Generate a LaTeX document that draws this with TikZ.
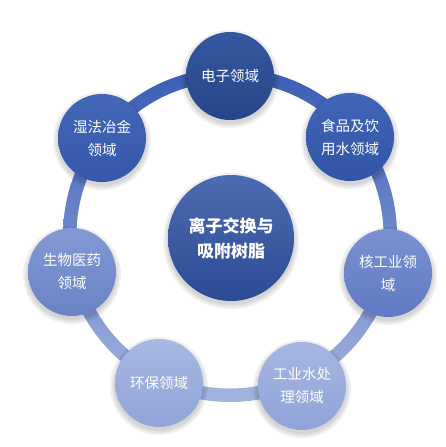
\documentclass[tikz,border=0pt]{standalone}
\usepackage{fontspec}
\usepackage{xcolor}
\usepackage{tikz}
\newfontfamily\cjk{Noto Sans CJK SC}

\definecolor{ringTop}{HTML}{3A5DB5}
\definecolor{ringBot}{HTML}{A3B4E0}
\definecolor{hubTop}{HTML}{4D6BB0}
\definecolor{hubBot}{HTML}{2B4B95}

\tikzset{
  field/.style={circle, minimum size=88pt, inner sep=0pt, align=center,
    text=white, font=\cjk\fontsize{14.5}{23}\selectfont},
  hub/.style={circle, minimum size=126pt, inner sep=0pt, align=center,
    text=white, font=\cjk\bfseries\fontsize{17}{25}\selectfont,
    top color=hubTop, bottom color=hubBot},
  softshade/.style={fill=black, fill opacity=0.06}
}

\begin{document}
\begin{tikzpicture}[x=1pt,y=-1pt]
                \useasboundingbox (0,0) rectangle (446,447);
                % Ring
                \shade[top color=ringTop, bottom color=ringBot, even odd rule]
                    (230,235) circle (167) (230,235) circle (153.5);
                % Center
                \foreach \r in {64,66,68} \fill[softshade] (231,241) circle (\r);
                \node[hub] (resin) at (231,238) {离子交换与\\吸附树脂};
                % Fields round the ring
                \foreach \x/\y/\name/\ctop/\cbot/\lab in {
                    230/76/elec/3457A0/27468A/{电子领域},
                    350/137/food/4266B7/3154A6/{食品及饮\\用水领域},
                    388/273/nucl/7A92D2/5F79C2/{核工业领\\域},
                    302/386/water/A6B6E2/8FA3D8/{工业水处\\理领域},
                    159/383/envi/A8B8E2/90A4D8/{环保领域},
                    72/272/bio/8399D4/6A83C6/{生物医药\\领域},
                    102/138/metal/4468B7/3457AA/{湿法冶金\\领域}} {
                    \definecolor{ft}{HTML}{\ctop}
                    \definecolor{fb}{HTML}{\cbot}
                    \foreach \r in {45,47,49} \fill[softshade] (\x,\y+3) circle (\r);
                    \node[field, top color=ft, bottom color=fb] (\name) at (\x,\y) {\lab};
                }
            \end{tikzpicture}
\end{document}
